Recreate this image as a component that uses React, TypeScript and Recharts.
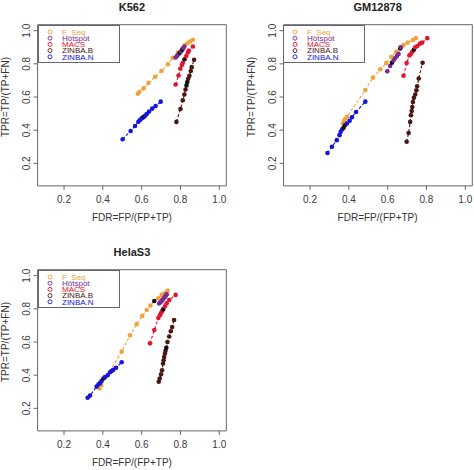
import React from "react";
import { ReferenceArea, Scatter, ScatterChart, XAxis, YAxis } from "recharts";

// [FDR, TPR, black marker]
type Pt = [number, number, number?];

const methods = ["F_Seq", "Hotspot", "MACS", "ZINBA.B", "ZINBA.N"];
const colors = ["#F2A23A", "#7A2A96", "#E5132D", "#4A1614", "#1414DC"];
const ticks = [0.2, 0.4, 0.6, 0.8, 1.0];

const k562FSeq: Pt[] = [[0.58, 0.62], [0.588, 0.63], [0.61, 0.652], [0.635, 0.685], [0.67, 0.722], [0.702, 0.757], [0.735, 0.797], [0.76, 0.836], [0.787, 0.868], [0.809, 0.892], [0.823, 0.913], [0.836, 0.925], [0.85, 0.935], [0.864, 0.945]];
const k562Hotspot: Pt[] = [[0.775, 0.838], [0.782, 0.848], [0.79, 0.858], [0.797, 0.868, 1], [0.803, 0.876], [0.81, 0.886, 1], [0.815, 0.895], [0.82, 0.905]];
const k562Macs: Pt[] = [[0.775, 0.675], [0.79, 0.73], [0.799, 0.77], [0.807, 0.793], [0.812, 0.807], [0.821, 0.828, 1], [0.83, 0.848], [0.838, 0.868], [0.843, 0.88], [0.864, 0.905]];
const k562ZinbaB: Pt[] = [[0.779, 0.45], [0.8, 0.528], [0.812, 0.58], [0.82, 0.615], [0.826, 0.645], [0.831, 0.67, 1], [0.835, 0.69, 1], [0.84, 0.71], [0.846, 0.728], [0.853, 0.757], [0.858, 0.78], [0.87, 0.825]];
const k562ZinbaN: Pt[] = [[0.502, 0.345], [0.543, 0.395], [0.566, 0.425], [0.583, 0.451], [0.591, 0.461], [0.6, 0.471], [0.606, 0.476], [0.612, 0.481, 1], [0.618, 0.487], [0.626, 0.497], [0.638, 0.512], [0.655, 0.53], [0.672, 0.546], [0.698, 0.572]];

const gmFSeq: Pt[] = [[0.37, 0.44], [0.375, 0.455], [0.38, 0.465], [0.39, 0.48], [0.485, 0.642], [0.524, 0.717], [0.562, 0.767], [0.593, 0.805], [0.619, 0.843], [0.644, 0.873], [0.665, 0.9], [0.682, 0.914], [0.703, 0.928], [0.73, 0.944], [0.745, 0.955]];
const gmHotspot: Pt[] = [[0.598, 0.755], [0.613, 0.787], [0.622, 0.807, 1], [0.63, 0.82], [0.638, 0.833], [0.648, 0.847], [0.656, 0.86], [0.665, 0.893, 1], [0.668, 0.9]];
const gmMacs: Pt[] = [[0.682, 0.728], [0.698, 0.805], [0.712, 0.85], [0.718, 0.858], [0.727, 0.873], [0.735, 0.885, 1], [0.742, 0.9], [0.753, 0.908], [0.767, 0.922], [0.778, 0.928], [0.804, 0.955]];
const gmZinbaB: Pt[] = [[0.698, 0.33], [0.708, 0.383], [0.716, 0.45], [0.72, 0.49], [0.724, 0.515], [0.727, 0.54], [0.73, 0.57], [0.735, 0.595], [0.742, 0.615], [0.748, 0.64], [0.752, 0.665], [0.76, 0.712], [0.78, 0.807]];
const gmZinbaN: Pt[] = [[0.29, 0.262], [0.313, 0.3], [0.338, 0.34], [0.352, 0.37], [0.358, 0.39], [0.366, 0.405], [0.373, 0.415, 1], [0.38, 0.43, 1], [0.39, 0.44], [0.404, 0.457], [0.416, 0.478], [0.437, 0.51], [0.485, 0.572]];

const helaFSeq: Pt[] = [[0.383, 0.32], [0.392, 0.34], [0.497, 0.542], [0.54, 0.64], [0.574, 0.707], [0.603, 0.757], [0.626, 0.793], [0.645, 0.82], [0.665, 0.847, 1], [0.686, 0.864], [0.703, 0.884], [0.717, 0.894], [0.734, 0.91]];
const helaHotspot: Pt[] = [[0.69, 0.832], [0.697, 0.84], [0.703, 0.847], [0.708, 0.855], [0.713, 0.862], [0.72, 0.872], [0.725, 0.88], [0.729, 0.888]];
const helaMacs: Pt[] = [[0.643, 0.592], [0.665, 0.672], [0.686, 0.745], [0.694, 0.762], [0.7, 0.775], [0.706, 0.787], [0.711, 0.797, 1], [0.72, 0.815], [0.729, 0.834], [0.742, 0.853], [0.775, 0.884]];
const helaZinbaB: Pt[] = [[0.688, 0.36], [0.693, 0.38], [0.7, 0.405], [0.705, 0.43], [0.71, 0.47], [0.713, 0.49], [0.716, 0.51], [0.72, 0.53], [0.723, 0.548], [0.727, 0.565, 1], [0.733, 0.6], [0.742, 0.633], [0.75, 0.665], [0.757, 0.69], [0.767, 0.733]];
const helaZinbaN: Pt[] = [[0.322, 0.264], [0.334, 0.277], [0.368, 0.331], [0.378, 0.345], [0.385, 0.352], [0.393, 0.365], [0.403, 0.38, 1], [0.411, 0.388], [0.425, 0.4], [0.437, 0.418], [0.445, 0.425], [0.454, 0.432], [0.468, 0.445], [0.497, 0.478]];

const FONT = '"Liberation Sans", Arial, sans-serif';
const LO = 0.064;
const HI = 1.036;
// plot box inside each panel
const PL = 37.6;
const PT = 24.7;
const PW = 188.7;
const PH = 161.2;
const H = 235;

const YTick = (props: any) => {
  const { x, y, payload } = props;
  return (
    <text x={x} y={y} transform={`rotate(-90 ${x} ${y})`} textAnchor="middle"
      fontSize={10} fill="#3a3a3a" fontFamily={FONT}>
      {payload.value.toFixed(1)}
    </text>
  );
};

interface PanelProps {
  title: string;
  left: number;
  top: number;
  width: number;
  series: Pt[][];
}

const Panel: React.FC<PanelProps> = ({ title, left, top, width, series }) => (
  <div style={{ position: "absolute", left, top, width, height: H }}>
    <ScatterChart width={width} height={H}
      margin={{ top: PT, right: width - PL - PW, bottom: H - PT - PH - 36, left: PL - 30 }}>
      <XAxis type="number" dataKey="x" domain={[LO, HI]} ticks={ticks} allowDataOverflow
        axisLine={false} tickLine={{ stroke: "#666" }} tickSize={4} tickMargin={6} height={36}
        tickFormatter={(v: number) => v.toFixed(1)}
        tick={{ fontSize: 10, fill: "#3a3a3a", fontFamily: FONT }} />
      <YAxis type="number" dataKey="y" domain={[LO, HI]} ticks={ticks} allowDataOverflow
        axisLine={false} tickLine={{ stroke: "#666" }} tickSize={4} tickMargin={4} width={30}
        tick={<YTick />} />
      <ReferenceArea x1={LO} x2={HI} y1={LO} y2={HI} fill="none" stroke="#666" strokeWidth={1} fillOpacity={0} />
      {series.map((pts, i) => (
        <Scatter key={methods[i]} name={methods[i]} isAnimationActive={false}
          data={pts.map(([x, y, k]) => ({ x, y, k: k ? 1 : 0 }))}
          line={{ stroke: colors[i], strokeWidth: 1.1, strokeDasharray: "3 2" }} lineType="joint"
          shape={(p: any) => (
            <circle cx={p.cx} cy={p.cy} r={2.3} fill={p.payload.k ? "#111" : colors[i]} />
          )} />
      ))}
    </ScatterChart>
    <div style={{ position: "absolute", left: PL, width: PW, top: 1, lineHeight: "12px",
      textAlign: "center", fontFamily: FONT, fontWeight: "bold", fontSize: 11, color: "#222" }}>
      {title}
    </div>
    <div style={{ position: "absolute", left: PL, width: PW, top: 212, lineHeight: "12px",
      textAlign: "center", fontFamily: FONT, fontSize: 10, color: "#333" }}>
      FDR=FP/(FP+TP)
    </div>
    <div style={{ position: "absolute", left: 6 - 60, top: 97 - 6, width: 120, lineHeight: "12px",
      textAlign: "center", fontFamily: FONT, fontSize: 10, color: "#333", transform: "rotate(-90deg)" }}>
      TPR=TP/(TP+FN)
    </div>
    <svg style={{ position: "absolute", left: PL, top: PT }} width={82} height={38}>
      <rect x={0.5} y={0.5} width={81} height={37} fill="#fff" stroke="#666" />
      {methods.map((m, i) => (
        <g key={m}>
          <circle cx={12} cy={7 + 6.2 * i} r={2} fill="none" stroke={colors[i]} strokeWidth={0.9} />
          <text x={24} y={7 + 6.2 * i} dy="0.35em" fontSize={8} fill={colors[i]} fontFamily={FONT}>{m}</text>
        </g>
      ))}
    </svg>
  </div>
);

export default function App() {
  return (
    <div style={{ position: "fixed", left: 0, top: 0, width: 474, height: 470, background: "#fff", overflow: "hidden" }}>
      <Panel title="K562" left={0} top={0} width={237}
        series={[k562FSeq, k562Hotspot, k562Macs, k562ZinbaB, k562ZinbaN]} />
      <Panel title="GM12878" left={245.7} top={0} width={228}
        series={[gmFSeq, gmHotspot, gmMacs, gmZinbaB, gmZinbaN]} />
      <Panel title="HelaS3" left={0} top={245} width={237}
        series={[helaFSeq, helaHotspot, helaMacs, helaZinbaB, helaZinbaN]} />
    </div>
  );
}
